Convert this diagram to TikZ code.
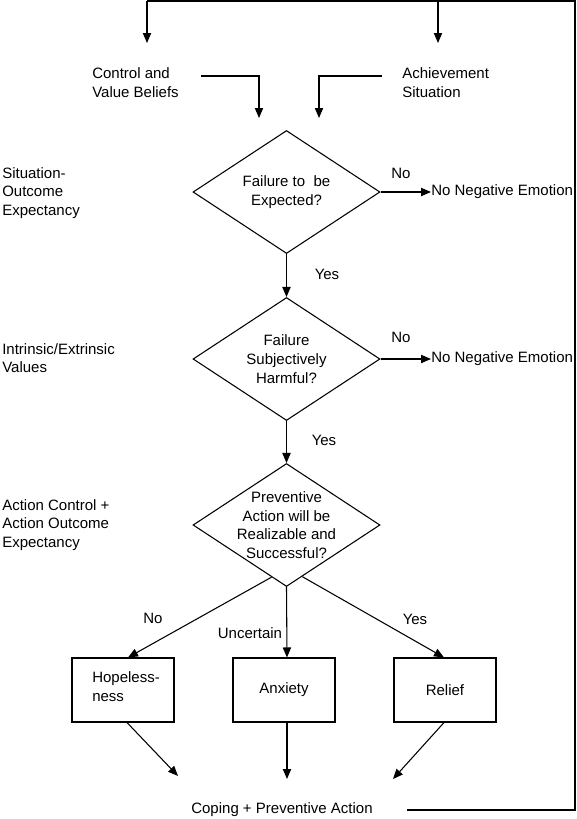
\documentclass[tikz,border=0pt]{standalone}
\usepackage{fontspec}
\setmainfont{Liberation Sans}
\usetikzlibrary{arrows.meta,shapes.geometric}
\begin{document}
\begin{tikzpicture}[x=0.75pt,y=-0.75pt,
  every node/.style={font=\fontsize{11.25}{14}\selectfont},
  line/.style={line width=0.8pt},
  arr/.style={line width=0.8pt,-{Triangle[length=7.5pt,width=6.2pt]}},
  dia/.style={draw,line width=0.8pt,diamond,minimum width=140.25pt,minimum height=92.25pt,inner sep=0pt},
  box/.style={draw,line width=0.8pt,minimum width=76.5pt,minimum height=48pt,inner sep=0pt},
  ctxt/.style={align=center,inner sep=0pt},
  ltxt/.style={align=left,anchor=west,inner sep=0pt}]
\useasboundingbox (0,0) rectangle (577,819);

% side labels
\node[ltxt] (s1) at (2,193) {Situation-\\Outcome\\Expectancy};
\node[ltxt] (s2) at (2,358) {Intrinsic/Extrinsic\\Values};
\node[ltxt] (s3) at (2,525) {Action Control +\\Action Outcome\\Expectancy};

% top inputs
\node[ltxt] (cvb) at (92,82.5) {Control and\\Value Beliefs};
\node[ltxt] (ach) at (402,82.5) {Achievement\\Situation};

% diamonds
\node[dia] (d1) at (286.5,192) {};
\node[ctxt] (d1t) at (d1) {Failure to\ \ be\\Expected?};
\node[dia] (d2) at (286.5,359) {};
\node[ctxt] (d2t) at (d2) {Failure\\Subjectively\\Harmful?};
\node[dia] (d3) at (286.5,525) {};
\node[ctxt] (d3t) at (d3) {Preventive\\Action will be\\Realizable and\\Successful?};

% no negative emotion
\node[ltxt] (nn1) at (431,192) {No Negative Emotion};
\node[ltxt] (nn2) at (431,359) {No Negative Emotion};

% boxes
\node[box] (hop) at (123,690) {};
\node[ltxt] (hopt) at (92,686.5) {Hopeless-\\ness};
\node[box] (anx) at (284,690) {Anxiety};
\node[box] (rel) at (445,690) {Relief};

% bottom
\node[ctxt] (cop) at (282,810) {Coping + Preventive Action};

% coordinates
\coordinate (t1) at (147,1);
\coordinate (t2) at (438,1);
\coordinate (t3) at (575,1);
\coordinate (b3) at (575,810);
\coordinate (fb) at (407,810);
\coordinate (cvbin) at (147,43);
\coordinate (achin) at (438,43);
\coordinate (cvbout) at (201,76);
\coordinate (cvbend) at (259,118);
\coordinate (achout) at (382,76);
\coordinate (achend) at (319,118);
\coordinate (e1) at (178,776);
\coordinate (e2) at (287,779);
\coordinate (e3) at (393,779);

% feedback loop
\draw[line] (fb) -- (b3) -- (t3) -- (t1);
\draw[arr] (t1) -- (cvbin);
\draw[arr] (t2) -- (achin);
\draw[arr] (cvbout) -| (cvbend);
\draw[arr] (achout) -| (achend);

% decisions
\draw[arr] (d1.east) -- (nn1.west);
\node[ctxt] (no1) at (401,173) {No};
\draw[arr] (d1.south) -- (d2.north);
\node[ctxt] (yes1) at (327,274) {Yes};
\draw[arr] (d2.east) -- (nn2.west);
\node[ctxt] (no2) at (401,337) {No};
\draw[arr] (d2.south) -- (d3.north);
\node[ctxt] (yes2) at (324,440) {Yes};

\draw[arr] (d3.254) -- ([xshift=3.75pt]hop.north);
\draw[arr] (d3.south) -- ([xshift=2.25pt]anx.north);
\draw[arr] (d3.287) -- ([xshift=-0.75pt]rel.north);
\node[ctxt] (no3) at (153,618) {No};
\node[ctxt] (unc) at (250,633) {Uncertain};
\node[ctxt] (yes3) at (415,619) {Yes};

\draw[arr] ([xshift=3pt]hop.south) -- (e1);
\draw[arr] ([xshift=2.25pt]anx.south) -- (e2);
\draw[arr] ([xshift=-0.75pt]rel.south) -- (e3);
\end{tikzpicture}
\end{document}
